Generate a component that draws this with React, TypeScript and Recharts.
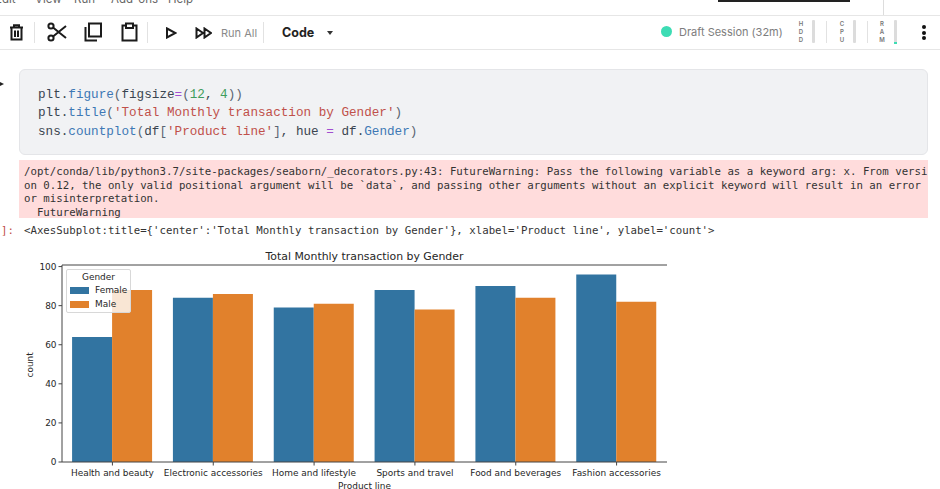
import { BarChart, Bar, XAxis, YAxis, Legend, ReferenceLine } from 'recharts'

const categories = ['Health and beauty', 'Electronic accessories', 'Home and lifestyle', 'Sports and travel', 'Food and beverages', 'Fashion accessories']
const femaleCounts = [64, 84, 79, 88, 90, 96]
const maleCounts = [88, 86, 81, 78, 84, 82]
const yTicks = [0, 20, 40, 60, 80, 100]
const yTop = 100.8

const menuItems: [string, number][] = [['Edit', -5], ['View', 35], ['Run', 74], ['Add-ons', 111], ['Help', 168]]
const warningLines = [
  '/opt/conda/lib/python3.7/site-packages/seaborn/_decorators.py:43: FutureWarning: Pass the following variable as a keyword arg: x. From versi',
  'on 0.12, the only valid positional argument will be `data`, and passing other arguments without an explicit keyword will result in an error',
  'or misinterpretation.',
  '  FutureWarning',
]

const chartData = categories.map((name, i) => ({ name, Female: femaleCounts[i], Male: maleCounts[i] }))

const BLUE = '#3274a1'
const ORANGE = '#e1812c'
const AXIS = '#444'
const INK = '#262626'
const MONO = '"Liberation Mono", monospace'
const DEJAVU_MONO = '"DejaVu Sans Mono", monospace'
const DEJAVU = '"DejaVu Sans", sans-serif'

const tick = { fontSize: 8.95, fill: INK, fontFamily: DEJAVU }

function GenderLegend({ payload }: any) {
  return (
    <div style={{ width: 65, height: 44, boxSizing: 'border-box', background: 'rgba(255,255,255,0.8)', border: '1px solid #d8d8d8', borderRadius: 2, fontFamily: DEJAVU, fontSize: 8.95, color: INK, position: 'relative' }}>
      <div style={{ position: 'absolute', top: 2, left: 0, width: '100%', textAlign: 'center' }}>Gender</div>
      {(payload || []).map((p: any, i: number) => (
        <div key={p.value}>
          <div style={{ position: 'absolute', left: 3, top: 17 + i * 14, width: 19, height: 6.5, background: p.color }} />
          <div style={{ position: 'absolute', left: 28, top: 15 + i * 14 }}>{p.value}</div>
        </div>
      ))}
    </div>
  )
}

function Toolbar() {
  const ic = { position: 'absolute' as const, fill: 'none', stroke: '#1b1b1b', strokeWidth: 2 }
  const sep = (x: number) => <div style={{ position: 'absolute', left: x, top: 22, width: 1, height: 21, background: '#e2e2e2' }} />
  const meter = (x: number, letters: string, barX: number, sepX?: number) => (
    <>
      <div style={{ position: 'absolute', left: x, top: 20, width: 10, fontSize: 6, lineHeight: '8px', textAlign: 'center', color: '#777', fontFamily: 'Inter', fontWeight: 600 }}>
        {letters.split('').map((c, i) => <div key={i}>{c}</div>)}
      </div>
      <div style={{ position: 'absolute', left: barX, top: 20, width: 3, height: 23, background: '#dcdcdc', borderRadius: 1 }} />
      {sepX ? <div style={{ position: 'absolute', left: sepX, top: 21, width: 1, height: 22, background: '#e2e2e2' }} /> : null}
    </>
  )
  return (
    <>
      {menuItems.map(([t, x]) => (
        <div key={t} style={{ position: 'absolute', left: x, top: -8, fontSize: 11.5, color: '#666', fontFamily: 'Inter' }}>{t}</div>
      ))}
      <div style={{ position: 'absolute', left: 718, top: 0, width: 132, height: 1.5, background: '#222' }} />
      <div style={{ position: 'absolute', left: 883, top: 0, width: 1, height: 15, background: '#ddd' }} />
      <div style={{ position: 'absolute', left: 0, top: 15, width: 940, height: 1, background: '#e6e6e6' }} />
      <div style={{ position: 'absolute', left: 0, top: 49, width: 940, height: 1, background: '#e6e6e6' }} />

      <svg style={{ ...ic, left: 9, top: 24 }} width={15} height={17} viewBox="0 0 15 17">
        <path d="M1 3.5h13M5 3V1.2h5V3M2.5 4v11.5h10V4M6 6.5v6.5M9 6.5v6.5" />
      </svg>
      {sep(34)}
      <svg style={{ ...ic, left: 47, top: 22 }} width={20} height={20} viewBox="0 0 20 20">
        <circle cx="4" cy="4" r="2.6" />
        <circle cx="4" cy="16" r="2.6" />
        <path d="M6 5.5L19 16M6 14.5L19 4" />
      </svg>
      <svg style={{ ...ic, left: 84, top: 22 }} width={18} height={20} viewBox="0 0 18 20">
        <path d="M5 1.5h12v13H5zM1.5 5v13.5H13" />
      </svg>
      <svg style={{ ...ic, left: 121, top: 22 }} width={17} height={20} viewBox="0 0 17 20">
        <path d="M4.5 3.5H1.5v15h14v-15h-3M5 1.5h7V6H5z" />
      </svg>
      {sep(147)}
      <svg style={{ ...ic, left: 165, top: 27 }} width={12} height={12} viewBox="0 0 12 12">
        <path d="M2 1.5L10.5 6 2 10.5z" />
      </svg>
      <svg style={{ ...ic, left: 195, top: 27 }} width={17} height={12} viewBox="0 0 17 12">
        <path d="M1.5 1.5L8 6 1.5 10.5zM9.5 1.5L16 6 9.5 10.5z" />
      </svg>
      <div style={{ position: 'absolute', left: 221, top: 26, fontSize: 11, color: '#8a8a8a', fontFamily: 'Inter' }}>Run All</div>
      {sep(263)}
      <div style={{ position: 'absolute', left: 282, top: 25, fontSize: 12.5, fontWeight: 700, color: '#222', fontFamily: 'Inter' }}>Code</div>
      <div style={{ position: 'absolute', left: 327, top: 31, width: 0, height: 0, borderLeft: '3.5px solid transparent', borderRight: '3.5px solid transparent', borderTop: '4px solid #333' }} />

      <div style={{ position: 'absolute', left: 661, top: 26, width: 11, height: 11, borderRadius: '50%', background: '#3ddcb4' }} />
      <div style={{ position: 'absolute', left: 679, top: 25, fontSize: 11, color: '#7d7d7d', fontFamily: 'Inter' }}>Draft Session (32m)</div>
      {meter(796, 'HDD', 812, 826)}
      {meter(837, 'CPU', 853, 867)}
      {meter(877, 'RAM', 894)}
      <div style={{ position: 'absolute', left: 894, top: 42, width: 3, height: 1.5, background: '#3ddcb4' }} />
      {[25, 30.5, 36].map((y) => (
        <div key={y} style={{ position: 'absolute', left: 922, top: y, width: 4, height: 4, borderRadius: '50%', background: '#111' }} />
      ))}
    </>
  )
}

function Cells() {
  const punct = '#5a6572'
  const fn = '#3d78b5'
  const str = '#c0504a'
  const num = '#3f9d5c'
  const op = '#a24fd0'
  const line = (top: number, children: any) => (
    <div style={{ position: 'absolute', left: 38, top, fontFamily: MONO, fontSize: 12.65, lineHeight: '18px', color: '#3a4550', whiteSpace: 'pre' }}>{children}</div>
  )
  return (
    <>
      <div style={{ position: 'absolute', left: 0, top: 82, width: 0, height: 0, borderLeft: '4px solid #222', borderTop: '2.5px solid transparent', borderBottom: '2.5px solid transparent' }} />
      <div style={{ position: 'absolute', left: 19, top: 69, width: 909, height: 86, boxSizing: 'border-box', background: '#f1f2f4', border: '1px solid #e4e5e8', borderRadius: 6 }} />
      {line(85.5, <>plt.<span style={{ color: fn }}>figure</span><span style={{ color: punct }}>(</span>figsize<span style={{ color: op }}>=</span><span style={{ color: punct }}>(</span><span style={{ color: num }}>12</span>, <span style={{ color: num }}>4</span><span style={{ color: punct }}>))</span></>)}
      {line(104, <>plt.<span style={{ color: fn }}>title</span><span style={{ color: punct }}>(</span><span style={{ color: str }}>'Total Monthly transaction by Gender'</span><span style={{ color: punct }}>)</span></>)}
      {line(123, <>sns.<span style={{ color: fn }}>countplot</span><span style={{ color: punct }}>(</span>df<span style={{ color: punct }}>[</span><span style={{ color: str }}>'Product line'</span><span style={{ color: punct }}>]</span>, hue <span style={{ color: op }}>=</span> df.<span style={{ color: fn }}>Gender</span><span style={{ color: punct }}>)</span></>)}

      <div style={{ position: 'absolute', left: 19, top: 160, width: 909, height: 58, background: '#ffdcdc' }} />
      {warningLines.map((t, i) => (
        <div key={i} style={{ position: 'absolute', left: 24, top: 165 + i * 13.7, fontFamily: DEJAVU_MONO, fontSize: 10.73, lineHeight: '14px', color: '#333', whiteSpace: 'pre' }}>{t}</div>
      ))}
      <div style={{ position: 'absolute', left: 1, top: 224, fontFamily: DEJAVU_MONO, fontSize: 10.73, lineHeight: '14px', color: '#c0504a', whiteSpace: 'pre' }}>]:</div>
      <div style={{ position: 'absolute', left: 24, top: 224, fontFamily: DEJAVU_MONO, fontSize: 10.73, lineHeight: '14px', color: '#333', whiteSpace: 'pre' }}>
        {"<AxesSubplot:title={'center':'Total Monthly transaction by Gender'}, xlabel='Product line', ylabel='count'>"}
      </div>
    </>
  )
}

export default function App() {
  return (
    <div style={{ position: 'absolute', left: 0, top: 0, width: 940, height: 489, overflow: 'hidden', background: '#fff' }}>
      <Toolbar />
      <Cells />
      <div style={{ position: 'absolute', left: 0, top: 240 }}>
        <BarChart width={700} height={249} data={chartData} margin={{ top: 25, right: 33, bottom: 0, left: 22 }} barCategoryGap="10%" barGap={0}>
          <XAxis
            dataKey="name"
            height={27}
            interval={0}
            tick={tick}
            tickSize={3.5}
            tickMargin={4}
            stroke={AXIS}
            label={{ value: 'Product line', position: 'insideBottom', offset: 0, style: { fontSize: 8.95, fill: INK, fontFamily: DEJAVU } }}
          />
          <YAxis
            width={40}
            domain={[0, yTop]}
            ticks={yTicks}
            tick={tick}
            tickSize={3.5}
            tickMargin={2}
            stroke={AXIS}
            label={{ value: 'count', angle: -90, position: 'insideLeft', offset: 8, dy: 14, style: { fontSize: 8.95, fill: INK, fontFamily: DEJAVU } }}
          />
          <YAxis yAxisId="frame" orientation="right" width={0} domain={[0, yTop]} tick={false} tickLine={false} stroke={AXIS} />
          <ReferenceLine
            y={yTop}
            stroke={AXIS}
            label={{ value: 'Total Monthly transaction by Gender', position: 'top', offset: 5, style: { fontSize: 10.9, fill: INK, fontFamily: DEJAVU } }}
          />
          <Legend
            layout="vertical"
            align="center"
            verticalAlign="middle"
            wrapperStyle={{ left: 66, top: 29, width: 65, height: 44 }}
            content={<GenderLegend />}
          />
          <Bar dataKey="Female" fill={BLUE} isAnimationActive={false} />
          <Bar dataKey="Male" fill={ORANGE} isAnimationActive={false} />
        </BarChart>
      </div>
    </div>
  )
}
